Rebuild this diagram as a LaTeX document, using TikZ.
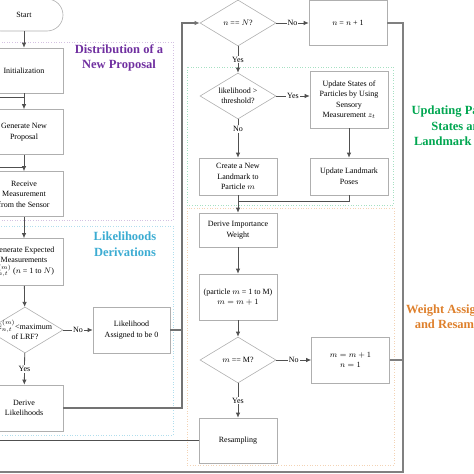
\documentclass[tikz,border=0pt]{standalone}
\usepackage{fontspec}
\setmainfont{Liberation Serif}
\usetikzlibrary{
  arrows.meta,
  positioning,
  shapes.geometric,
}
\definecolor{boxgray}{RGB}{175, 175, 175}
\definecolor{linegray}{RGB}{80, 80, 80}
\definecolor{proposalpurple}{RGB}{112, 48, 160}
\definecolor{likelihoodblue}{RGB}{60, 172, 210}
\definecolor{updategreen}{RGB}{0, 166, 80}
\definecolor{weightorange}{RGB}{222, 128, 44}
\tikzstyle{procbox} = [
  rectangle,
  draw=boxgray,
  line width=0.6pt,
  minimum width=78pt,
  minimum height=45pt,
  align=center,
  inner sep=1pt,
  font=\fontsize{8}{10.5}\selectfont,
]
\tikzstyle{terminal} = [procbox, rounded corners=16pt, minimum height=32pt]
\tikzstyle{decision} = [
  diamond,
  draw=boxgray,
  line width=0.6pt,
  minimum width=76pt,
  minimum height=46pt,
  inner sep=0pt,
]
\tikzstyle{dtext} = [align=center, font=\fontsize{8}{10.5}\selectfont]
\tikzstyle{wire} = [draw=linegray, line width=0.8pt]
\tikzstyle{flow} = [wire, -{Latex[length=5pt,width=4.5pt]}]
\tikzstyle{loopline} = [draw=black!55, line width=1.3pt]
\tikzstyle{loopbig} = [draw=black!50, line width=1.8pt]
\tikzstyle{frame} = [dotted, line width=0.6pt]
\tikzstyle{heading} = [align=center, font=\bfseries\fontsize{12.5}{15.5}\selectfont]
\tikzstyle{lbl} = [fill=white, inner sep=1pt, font=\fontsize{8}{9}\selectfont]

\begin{document}
\begin{tikzpicture}[x=1pt, y=-1pt]

        \useasboundingbox (0,0) rectangle (474,474);

        % dotted group frames
        \draw [frame, draw=proposalpurple!30] (-10,42) rectangle (173,220);
        \draw [frame, draw=likelihoodblue!40] (-10,226) rectangle (173,435);
        \draw [frame, draw=updategreen!35] (187,67) rectangle (393,205);
        \draw [frame, draw=weightorange!35] (187,208) rectangle (394,465);

        \node [heading, text=proposalpurple] (hprop) at (119,58) {Distribution of a\\New Proposal};
        \node [heading, text=likelihoodblue] (hlik) at (125,244) {Likelihoods\\Derivations};
        \node [heading, text=updategreen] (hupd) at (459,126) {Updating Particle\\States and\\Landmark Poses};
        \node [heading, text=weightorange] (hwgt) at (458,318) {Weight Assignment\\and Resampling};

        % left column
        \node [terminal] (start) at (24,15) {Start};
        \node [procbox] (init) at (24,70.5) {Initialization};
        \node [procbox] (gen) at (24,132) {Generate New\\Proposal};
        \node [procbox] (recv) at (24,194) {Receive\\Measurement\\from the Sensor};
        \node [procbox, minimum height=47pt] (expect) at (24,262)
              {Generate Expected\\Measurements\\$\hat{z}^{(m)}_{n,t}$ ($n$ = 1 to $N$)};
        \node [decision, label={[dtext]center:{$\hat{z}^{(m)}_{n,t}$<maximum\\of LRF?}}] (lrf) at (25,330) {};
        \node [procbox, minimum width=77pt, minimum height=46pt] (zero) at (131.5,330) {Likelihood\\Assigned to be 0};
        \node [procbox, minimum height=46pt] (derive) at (24,408) {Derive\\Likelihoods};

        % right column
        \node [decision, label={[dtext]center:{$n$ == $N$?}}] (lastn) at (238,23) {};
        \node [procbox] (nnext) at (348,23) {$n$ = $n$ + 1};
        \node [decision, label={[dtext]center:{likelihood >\\threshold?}}] (thresh) at (238,96) {};
        \node [procbox, minimum height=57pt] (upstate) at (349,99.5)
              {Update States of\\Particles by Using\\Sensory\\Measurement $z_t$};
        \node [procbox, minimum height=37pt] (newlm) at (238,176.5) {Create a New\\Landmark to\\Particle $m$};
        \node [procbox, minimum height=37pt] (uplm) at (349,176.5) {Update Landmark\\Poses};
        \node [procbox, minimum height=34pt] (weight) at (238,230) {Derive Importance\\Weight};
        \node [procbox, minimum height=46pt] (particle) at (238,297) {(particle $m$ = 1 to M)\\$m = m + 1$};
        \node [decision, label={[dtext]center:{$m$ == M?}}] (lastm) at (238,360) {};
        \node [procbox, minimum height=46pt] (mnext) at (350.5,360) {$m = m + 1$\\$n = 1$};
        \node [procbox] (resamp) at (238,440.5) {Resampling};

        \coordinate (entA) at (-10,97);
        \coordinate (entB) at (-10,167);
        \coordinate (busL) at (182,408);
        \coordinate (join) at (238,201);
        \coordinate (busR) at (403,472);
        \coordinate (exitA) at (-10,440.5);
        \coordinate (exitB) at (-10,472);

        % connectors
        \draw [flow] (start) -- (init);
        \draw [flow] (init) -- (gen);
        \draw [wire] (entA) -- (entA -| init.south);
        \draw [flow] (gen) -- (recv);
        \draw [wire] (entB) -- (entB -| gen.south);
        \draw [flow] (recv) -- (expect);
        \draw [flow] (expect) -- (lrf);
        \draw [flow] (lrf) -- node [lbl] {No} (zero);
        \draw [flow] (lrf) -- node [lbl] {Yes} (derive);

        \draw [loopline] (zero.east) -- (zero.east -| busL);
        \draw [loopline, -{Latex[length=5pt,width=4.5pt]}] (derive.east) -- (busL) |- (lastn.west);

        \draw [flow] (lastn) -- node [lbl] {No} (nnext);
        \draw [flow] (lastn) -- node [lbl] {Yes} (thresh);
        \draw [flow] (thresh.east) -- node [lbl] {Yes} (thresh.east -| upstate.west);
        \draw [flow] (upstate) -- (uplm);
        \draw [flow] (thresh) -- node [lbl, pos=0.25] {No} (newlm);
        \draw [flow] (newlm) -- (weight);
        \draw [wire] (uplm.south) |- (join);
        \draw [flow] (weight) -- (particle);
        \draw [flow] (particle) -- (lastm);
        \draw [flow] (lastm) -- node [lbl] {No} (mnext);
        \draw [flow] (lastm) -- node [lbl] {Yes} (resamp);

        \draw [loopbig] (nnext.east) -| (busR) -- (exitB);
        \draw [loopbig] (mnext.east) -- (mnext.east -| busR);
        \draw [wire] (resamp.west) -- (exitA);

\end{tikzpicture}
\end{document}
